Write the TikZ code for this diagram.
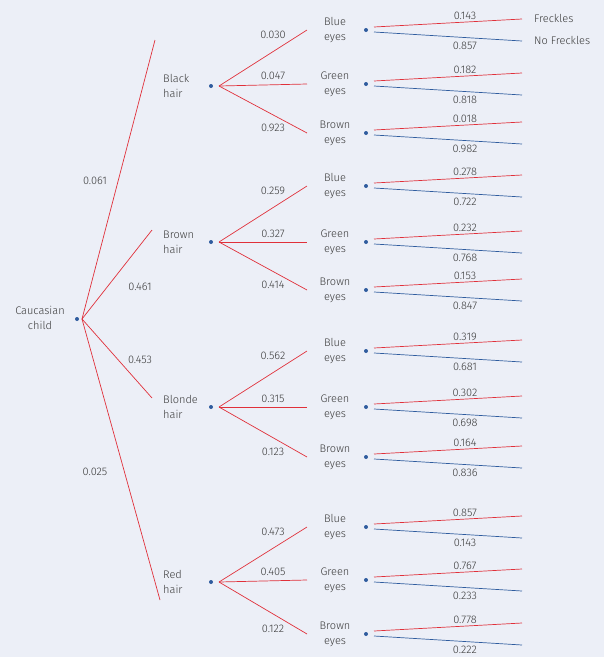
\documentclass[tikz,border=0pt]{standalone}
\usepackage{fontspec}
\setmainfont{Fira Sans Light}
\usetikzlibrary{calc}
\definecolor{bg}{HTML}{ECEFF7}
\definecolor{rl}{HTML}{E0303A}
\definecolor{bl}{HTML}{2F5C9E}
\definecolor{tx}{HTML}{3A3A3A}
\begin{document}
\begin{tikzpicture}[x=1pt,y=-1pt,
  lbl/.style={font=\fontsize{11}{15}\selectfont,text=tx,inner sep=0},
  dotn/.style={circle,fill=bl,inner sep=0,minimum size=4pt},
  rline/.style={rl,line width=0.7pt},
  bline/.style={bl,line width=0.7pt}]
\fill[bg] (0,0) rectangle (604,657);
\useasboundingbox (0,0) rectangle (604,657);
\node[dotn] (root) at (77,319) {};
\node[lbl,align=center] (rootl) at (40,318) {Caucasian\\child};
\foreach \n/\y/\ex/\ey/\p/\px/\py/\a/\b/\c/\ea/\eb/\ec/\hname in {
  1/86/155/40/0.061/95/181/0.030/0.047/0.923/30/84/133/Black,
  2/242/152/230/0.461/140/287/0.259/0.327/0.414/186/242/290/Brown,
  3/407/152/398/0.453/140/360/0.562/0.315/0.123/351/407/457/Blonde,
  4/582/160/600/0.025/95/472/0.473/0.405/0.122/527/580/634/Red}{
  \node[dotn] (h\n) at (211,\y) {};
  \node[lbl,align=left,anchor=west] (hl\n) at (163,\y) {\hname\\hair};
  \coordinate (re\n) at (\ex,\ey);
  \draw[rline] (root) ++(5,0) -- (re\n);
  \node[lbl] (rp\n) at (\px,\py) {\p};
  \foreach \k/\ey/\pp/\nm in {1/\ea/\a/Blue,2/\eb/\b/Green,3/\ec/\c/Brown}{
    \node[dotn] (e\n\k) at (366,\ey) {};
    \node[lbl,align=center] (el\n\k) at (335,\ey) {\nm\\eyes};
    \coordinate (he\n\k) at (307,\ey);
    \draw[rline] (h\n) ++(8,0) -- (he\n\k);
  }
  \node[lbl] (hp\n1) at (273,{\ea+5}) {\a};
  \node[lbl] (hp\n2) at (273,{\eb-8}) {\b};
  \node[lbl] (hp\n3) at (273,{\ec-5}) {\c};
}
\foreach \n/\k/\f/\g in {1/1/0.143/0.857,1/2/0.182/0.818,1/3/0.018/0.982,
  2/1/0.278/0.722,2/2/0.232/0.768,2/3/0.153/0.847,
  3/1/0.319/0.681,3/2/0.302/0.698,3/3/0.164/0.836,
  4/1/0.857/0.143,4/2/0.767/0.233,4/3/0.778/0.222}{
  \coordinate (fr\n\k) at ($(e\n\k)+(156,-11)$);
  \coordinate (nf\n\k) at ($(e\n\k)+(156,11)$);
  \draw[rline] ($(e\n\k)+(8,-3)$) -- (fr\n\k);
  \draw[bline] ($(e\n\k)+(8,2)$) -- (nf\n\k);
  \node[lbl] (fp\n\k) at ($(e\n\k)+(99,-14)$) {\f};
  \node[lbl] (np\n\k) at ($(e\n\k)+(99,16)$) {\g};
}
\node[lbl,anchor=west] (fl) at (534,18) {Freckles};
\node[lbl,anchor=west] (nfl) at (534,40) {No Freckles};
\end{tikzpicture}
\end{document}
